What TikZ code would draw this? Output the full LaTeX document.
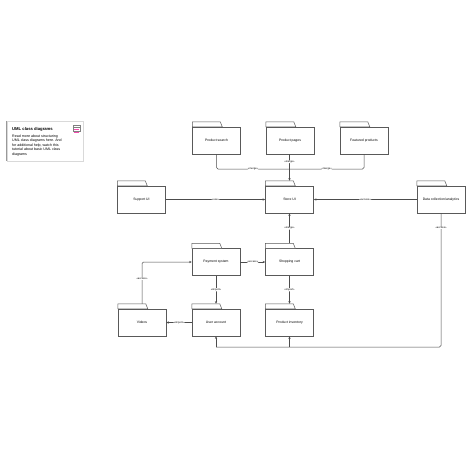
\documentclass[tikz,border=0pt]{standalone}
\usepackage{fontspec}
\setmainfont{Liberation Sans}
\usetikzlibrary{arrows.meta,calc}
\tikzset{
  pkg/.style={draw=black!65, line width=0.5pt, fill=white, minimum width=48pt, minimum height=27pt, inner sep=0pt, font=\fontsize{3.4}{4}\selectfont},
  pkgline/.style={draw=black!65, line width=0.5pt, fill=white},
  conn/.style={draw=black!70, line width=0.5pt, rounded corners=1.5pt},
  arr/.style={conn, -{Stealth[length=2.6pt,width=2.2pt]}},
  lbl/.style={fill=white, inner sep=0.4pt, font=\fontsize{2.6}{3}\selectfont},
}
\newcommand{\pkgbox}[4]{%
  \node[pkg] (#1) at (#2,#3) {#4};
  \draw[pkgline] (#1.north west) -- ++(0,-5) -- ++(28,0) -- ++(2,5) -- cycle;
  \coordinate (#1-tab) at ($(#1.north)+(0,-5)$);
}
\begin{document}
\begin{tikzpicture}[x=1pt,y=-1pt]
\useasboundingbox[fill=white] (0,0) rectangle (474,474);

% legend
\node[draw=black!15, fill=white, line width=0.4pt, minimum width=76pt, minimum height=40pt, inner sep=0pt] (legend) at (45,141) {};
\draw[black!40, line width=1.2pt] (legend.north west) -- (legend.south west);
\node[anchor=west, inner sep=0pt, font=\fontsize{4.2}{5}\selectfont\bfseries] (ltitle) at (12,129.5) {UML class diagrams};
\node[anchor=north west, inner sep=0pt, align=left, font=\fontsize{3.6}{4.5}\selectfont] (ltext) at (12,134.5) {Read more about structuring\\UML class diagrams here. And\\for additional help, watch this\\tutorial about basic UML class\\diagrams};
\node[draw=black!50, line width=0.35pt, minimum width=7pt, minimum height=5.5pt, inner sep=0pt] (licon) at (76.5,128) {};
\draw[black!50, line width=0.3pt] ($(licon.north west)+(0,1.8)$) -- ($(licon.north east)+(0,1.8)$);
\draw[magenta!70, line width=0.3pt] ($(licon.west)+(1,1.2)$) -- ($(licon.east)+(-1,1.2)$);
\draw[magenta!70, line width=0.3pt] ($(licon.south west)+(1,1.5)$) -- ($(licon.south east)+(-1,1.5)$);

% packages
\pkgbox{psearch}{216.5}{140.5}{Product search}
\pkgbox{ppages}{290}{140.5}{Product pages}
\pkgbox{featured}{364}{140.5}{Featured products}
\pkgbox{support}{141.5}{199.5}{Support UI}
\pkgbox{store}{289.5}{199.5}{Store UI}
\pkgbox{data}{441}{199.5}{Data collection/analytics}
\pkgbox{payment}{216}{262}{Payment system}
\pkgbox{cart}{289.5}{262}{Shopping cart}
\pkgbox{videos}{142}{322.5}{Videos}
\pkgbox{account}{216}{322.5}{User account}
\pkgbox{inventory}{289.5}{322.5}{Product inventory}

% top merges
\coordinate (mj) at (289.5,169);
\draw[conn] (psearch.south) |- (mj) node[lbl, pos=0.75] {«merge»};
\draw[conn] (featured.south) |- (mj) node[lbl, pos=0.75] {«merge»};
\draw[arr] (ppages.south -| store-tab) -- (store-tab) node[lbl, pos=0.28] {«merge»};

% middle row
\draw[arr] (support.east) -- (store.west) node[lbl, midway] {«use»};
\draw[arr] (data.west) -- (store.east) node[lbl, midway] {«access»};
\draw[arr] (cart-tab) -- (store.south) node[lbl, midway] {«merge»};
\draw[arr] (payment.east) -- (cart.west) node[lbl, midway] {«access»};

% lower connections
\coordinate (vtop) at (videos-tab);
\draw[arr] (vtop) |- (payment.west) node[lbl, pos=0.3] {«access»};
\draw[arr] (payment.south) -- (account-tab) node[lbl, midway] {«import»};
\draw[arr] (cart.south) -- (inventory-tab) node[lbl, midway] {«import»};
\draw[arr] (account.west) -- (videos.east) node[lbl, midway] {«import»};

% data collection bottom
\coordinate (dcorner) at (441,347);
\coordinate (acorner) at (216,347);
\coordinate (ibranch) at (289.5,347);
\draw[conn] (data.south) -- (dcorner) -- (acorner);
\node[lbl] (dlbl) at (441,228) {«access»};
\draw[arr] (acorner) -- (account.south);
\draw[arr] (ibranch) -- (inventory.south);
\end{tikzpicture}
\end{document}
